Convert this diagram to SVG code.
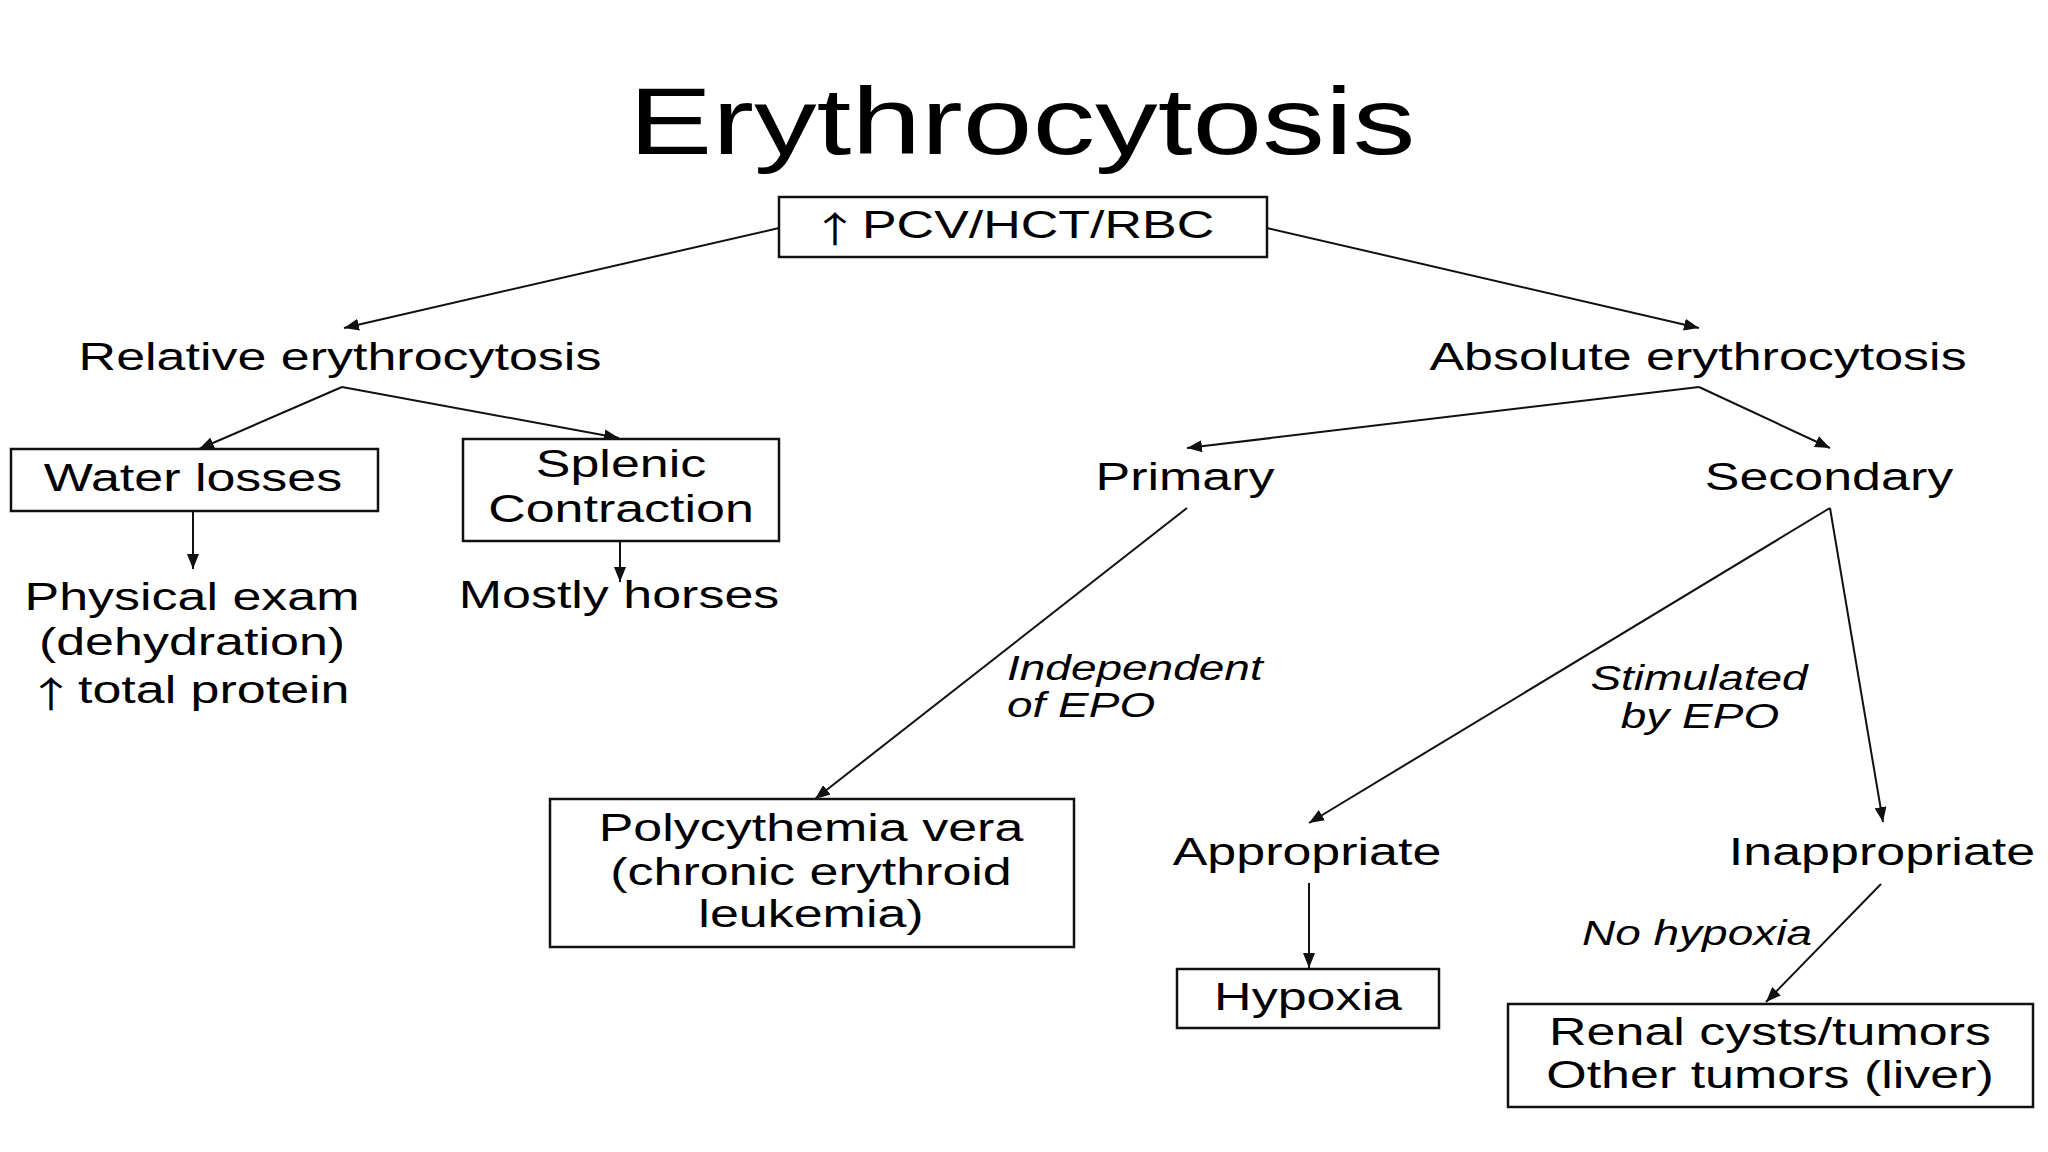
<svg xmlns="http://www.w3.org/2000/svg" width="2048" height="1152" viewBox="0 0 2048 1152">
<style>
text{font-family:"Liberation Sans",Arial,sans-serif;fill:#000}
.t{font-size:39px;text-anchor:middle}
.s{font-size:39px}
.title{font-size:94px;text-anchor:middle}
.i{font-size:34.5px;font-style:italic}
.ar{font-family:"Noto Sans CJK JP","Noto Sans CJK SC",sans-serif;font-size:36px}
.sp{font-size:8px}
.box{fill:#fff;stroke:#111;stroke-width:2.5}
.c line{stroke:#111;stroke-width:2}
</style>
<defs>
<marker id="ah" markerUnits="userSpaceOnUse" markerWidth="16" markerHeight="12" refX="15" refY="6" orient="auto">
<path d="M0,0 L15,6 L0,12 z" fill="#111"/>
</marker>
</defs>
<rect width="2048" height="1152" fill="#fff"/>
<g id="title"><text class="title" transform="translate(1022,154) scale(1.333,1)">Erythrocytosis</text></g>

<g class="c" id="connectors">
<line x1="779" y1="228" x2="344" y2="328" marker-end="url(#ah)"/>
<line x1="1267" y1="228" x2="1699" y2="328" marker-end="url(#ah)"/>
<line x1="342" y1="387" x2="199" y2="449" marker-end="url(#ah)"/>
<line x1="342" y1="387" x2="619" y2="438" marker-end="url(#ah)"/>
<line x1="193" y1="511" x2="193" y2="569" marker-end="url(#ah)"/>
<line x1="620" y1="541" x2="620" y2="582" marker-end="url(#ah)"/>
<line x1="1699" y1="387" x2="1187" y2="448" marker-end="url(#ah)"/>
<line x1="1699" y1="387" x2="1830" y2="448" marker-end="url(#ah)"/>
<line x1="1187" y1="508" x2="815" y2="799" marker-end="url(#ah)"/>
<line x1="1830" y1="508" x2="1309" y2="823" marker-end="url(#ah)"/>
<line x1="1830" y1="508" x2="1883" y2="822" marker-end="url(#ah)"/>
<line x1="1309" y1="883" x2="1309" y2="968" marker-end="url(#ah)"/>
<line x1="1881" y1="884" x2="1766" y2="1002" marker-end="url(#ah)"/>
</g>

<g id="n-top"><rect class="box" x="779" y="197" width="488" height="60"/><text class="s" transform="translate(811,238) scale(1.333,1)"><tspan class="ar" dy="5">↑</tspan><tspan class="sp" dy="-5"> </tspan>PCV/HCT/RBC</text></g>
<g id="n-relative"><text class="t" transform="translate(340,370) scale(1.333,1)">Relative erythrocytosis</text></g>
<g id="n-absolute"><text class="t" transform="translate(1698,370) scale(1.333,1)">Absolute erythrocytosis</text></g>
<g id="n-water"><rect class="box" x="11" y="449" width="367" height="62"/><text class="t" transform="translate(193,491) scale(1.333,1)">Water losses</text></g>
<g id="n-splenic"><rect class="box" x="463" y="439" width="316" height="102"/><text class="t" transform="translate(621,477) scale(1.333,1)">Splenic</text><text class="t" transform="translate(621,522) scale(1.333,1)">Contraction</text></g>
<g id="n-physical"><text class="t" transform="translate(192,610) scale(1.333,1)">Physical exam</text><text class="t" transform="translate(192,655) scale(1.333,1)">(dehydration)</text><text class="s" transform="translate(27,703) scale(1.333,1)"><tspan class="ar" dy="5">↑</tspan><tspan class="sp" dy="-5"> </tspan>total protein</text></g>
<g id="n-horses"><text class="t" transform="translate(619,608) scale(1.333,1)">Mostly horses</text></g>
<g id="n-primary"><text class="t" transform="translate(1185,490) scale(1.333,1)">Primary</text></g>
<g id="n-secondary"><text class="t" transform="translate(1829,490) scale(1.333,1)">Secondary</text></g>
<g id="l-independent"><text class="i" transform="translate(1007,680) scale(1.333,1)">Independent</text><text class="i" transform="translate(1007,717) scale(1.333,1)">of EPO</text></g>
<g id="l-stimulated"><text class="i" text-anchor="middle" transform="translate(1699,690) scale(1.333,1)">Stimulated</text><text class="i" text-anchor="middle" transform="translate(1700,728) scale(1.333,1)">by EPO</text></g>
<g id="n-polycythemia"><rect class="box" x="550" y="799" width="524" height="148"/><text class="t" transform="translate(811,841) scale(1.333,1)">Polycythemia vera</text><text class="t" transform="translate(811,885) scale(1.333,1)">(chronic erythroid</text><text class="t" transform="translate(811,927) scale(1.333,1)">leukemia)</text></g>
<g id="n-appropriate"><text class="t" transform="translate(1307,865) scale(1.333,1)">Appropriate</text></g>
<g id="n-inappropriate"><text class="t" transform="translate(1882,865) scale(1.333,1)">Inappropriate</text></g>
<g id="n-hypoxia"><rect class="box" x="1177" y="969" width="262" height="59"/><text class="t" transform="translate(1308,1010) scale(1.333,1)">Hypoxia</text></g>
<g id="l-nohypoxia"><text class="i" text-anchor="middle" transform="translate(1697,945) scale(1.333,1)">No hypoxia</text></g>
<g id="n-renal"><rect class="box" x="1508" y="1004" width="525" height="103"/><text class="t" transform="translate(1770,1045) scale(1.333,1)">Renal cysts/tumors</text><text class="t" transform="translate(1770,1088) scale(1.333,1)">Other tumors (liver)</text></g>
</svg>
